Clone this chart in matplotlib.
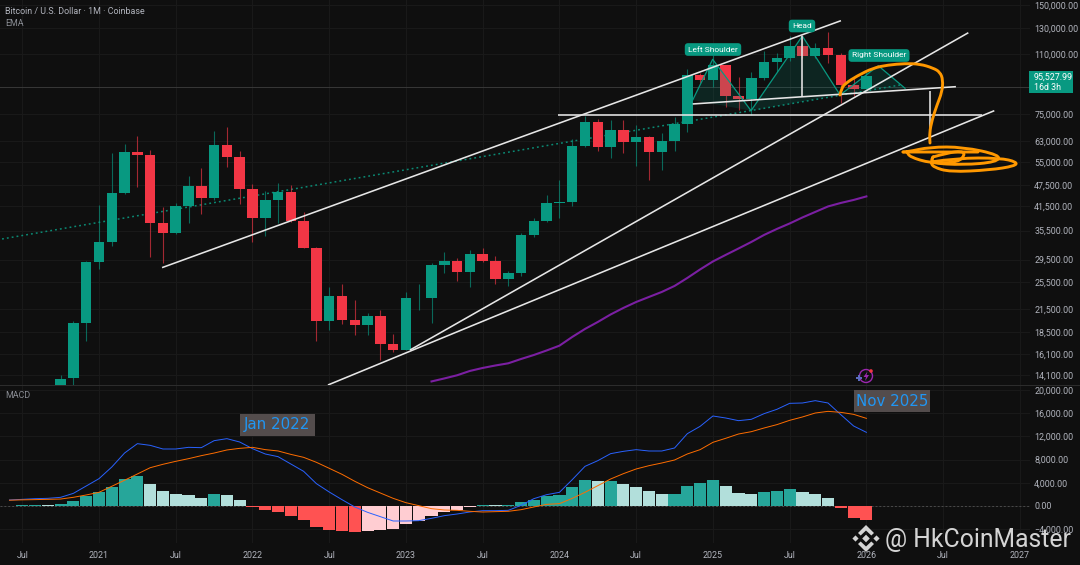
import matplotlib
matplotlib.use('Agg')
import matplotlib.pyplot as plt
from matplotlib.path import Path
from matplotlib.patches import PathPatch, Polygon, Circle, Rectangle

plt.rcParams['font.family'] = ['Roboto', 'DejaVu Sans']

W, H = 1080, 565
BG = '#0f0f0f'
GRID = '#191919'
TXT = '#b2b5be'
UP = '#089981'
DOWN = '#f23645'

# months are counted from Jan 2021 = 0
candle_months = list(range(-3, 61))
opens = [10800, 13800, 19700, 29000, 33100, 45200, 58800, 57700, 37300, 35000, 41500, 47100, 43800, 61300,
         57000, 46200, 38500, 43200, 45500, 37700, 31800, 19900, 23300, 20000, 19400, 20500, 17200, 16550,
         23100, 23100, 28500, 29200, 27200, 30500, 29200, 26000, 27000, 34600, 37700, 42300, 42600, 61200,
         71300, 60600, 67500, 62700, 64600, 58900, 63000, 70300, 96400, 93400, 102400, 84300, 82500, 94200,
         104600, 107100, 115700, 108300, 114000, 109600, 90400, 87700]
closes = [13740, 19700, 29000, 33100, 45200, 58800, 57700, 37300, 35000, 41500, 47100, 43800, 61300, 57000,
          46200, 38500, 43200, 45500, 37700, 31800, 19900, 23300, 20000, 19400, 20500, 17200, 16550, 23100,
          23100, 28500, 29200, 27200, 30500, 29200, 26000, 27000, 34600, 37700, 42300, 42600, 61200, 71000,
          60600, 67500, 62700, 64600, 58900, 63000, 70300, 96400, 93400, 102400, 84300, 82500, 94200, 104600,
          107100, 115700, 108300, 114000, 109600, 90400, 87700, 95528]
highs = [14100, 19900, 29300, 41850, 58350, 61700, 64900, 59500, 41300, 42400, 50500, 52900, 67000, 69000,
         59000, 47900, 45800, 48200, 47400, 40000, 31900, 24700, 25200, 22800, 20900, 21400, 18300, 23900,
         25200, 28900, 31000, 29800, 31400, 31800, 30100, 27400, 35000, 38400, 44700, 49000, 64000, 73800,
         72700, 72000, 72000, 70000, 65000, 66500, 73600, 99800, 97500, 109000, 102500, 95000, 97700, 111900,
         110500, 123100, 124900, 117900, 126200, 110600, 94200, 97800]
lows = [10500, 13000, 17520, 27700, 32250, 45000, 47000, 30000, 28800, 34800, 37300, 39600, 43300, 53200,
        42000, 33000, 34400, 37200, 37500, 31700, 17500, 18800, 19500, 18200, 18200, 15500, 16300, 16500,
        21400, 19600, 27000, 25800, 24800, 29000, 25300, 24900, 26600, 34000, 37600, 38500, 41700, 60800,
        59100, 56500, 58400, 53700, 49000, 52500, 59000, 66800, 91300, 89000, 78200, 76600, 74400, 93300,
        98000, 105200, 107300, 107300, 103500, 80600, 83800, 87200]

ema_months = list(range(26, 61))
ema_values = [13525, 13786, 14070, 14465, 14744, 14980, 15190, 15615, 16020, 16490, 17005, 17980, 18925, 19790,
              20760, 21650, 22490, 23225, 23980, 24920, 26230, 27700, 29150, 30400, 31670, 33020, 34540, 35890,
              37170, 38630, 40020, 41450, 42390, 43210, 44200]

# drawn trend lines as (months, prices)
channel_top = ([4.93, 58.01], [28020, 136100])
support_flat = ([35.89, 69.0], [74600, 74600])
neckline = ([46.42, 67.0], [79870, 89210])
rising_inner = ([24.32, 67.97], [16540, 126000])
rising_outer = ([17.9, 70.0], [13220, 76500])
head_drop = ([55, 55], [123400, 83530])
target_drop = ([64.97, 64.97], [86960, 62100])
dotted_trend = ([-7.58, 62.63], [33660, 90170])

pattern_months = [46.42, 47.98, 50.98, 54.99, 57.94, 60.93, 63.02]
pattern_prices = [81930, 106300, 76500, 123400, 84590, 102000, 88310]

macd_months = list(range(-7, 61))
macd_hist = [30, 100, 230, 170, 400, 860, 1670, 2350, 3330, 4700, 5230, 3850, 2640, 2130, 1950, 1380, 2130, 1950,
             1090, -230, -750, -980, -1670, -2410, -3680, -4080, -4370, -4430, -4250, -4080, -3910, -3160, -2590,
             -1670, -980, -630, -115, 230, 170, 170, 750, 1090, 1670, 1950, 3220, 4480, 4310, 4370, 3850, 3330,
             2530, 2070, 2070, 3500, 4020, 4540, 3500, 2300, 2130, 2470, 2640, 2930, 2410, 2130, 1440, -400,
             -2010, -2410]
macd_line = [1034, 1149, 1264, 1322, 1494, 2184, 3448, 4713, 6724, 9138, 10747, 10460, 9828, 9828, 10115, 10057,
             11264, 11609, 11034, 9885, 8966, 8506, 7241, 5977, 3851, 2414, 1092, -172, -1092, -1839, -2586,
             -2586, -2529, -2126, -1667, -1379, -1034, -805, -805, -747, 115, 1264, 1954, 2356, 4540, 6839, 7816,
             9023, 9425, 9713, 9483, 9483, 10000, 12471, 13736, 15517, 15172, 14713, 14943, 15920, 16667, 17701,
             17759, 18161, 17759, 15747, 13793, 12701]
signal_line = [1000, 1060, 1100, 1150, 1200, 1500, 1900, 2360, 3400, 4440, 5520, 6600, 7190, 7700, 8160, 8680,
               9130, 9660, 9940, 10115, 9720, 9490, 8900, 8390, 7530, 6500, 5460, 4260, 3160, 2240, 1320, 570,
               60, -460, -690, -750, -920, -1035, -975, -917, -635, -170, 284, 406, 1320, 2360, 3506, 4653, 5575,
               6383, 6953, 7413, 7930, 8971, 9716, 10977, 11672, 12413, 12813, 13450, 14027, 14771, 15349, 16031,
               16319, 16147, 15803, 15111]

price_ticks = [150000, 130000, 110000, 75000, 63000, 55000, 47500, 41500, 35500, 29500, 25500, 21500, 18500,
               16100, 14100]
macd_ticks = [20000, 16000, 12000, 8000, 4000, 0, -4000]
x_ticks = [-6, 0, 6, 12, 18, 24, 30, 36, 42, 48, 54, 60, 66, 72]
x_labels = ['Jul', '2021', 'Jul', '2022', 'Jul', '2023', 'Jul', '2024', 'Jul', '2025', 'Jul', '2026', 'Jul', '2027']

PANEL_R = 1030
FS = 6.4
xlim = (-99 / 12.79, (PANEL_R - 99) / 12.79)


def add_px_axes(fig, top, bottom):
    return fig.add_axes([0, (H - bottom) / H, PANEL_R / W, (bottom - top) / H])


def smooth(points, color='#ff9800', lw=2.1):
    # quadratic curve through the midpoints, looks like a pen stroke
    verts = [points[0]]
    codes = [Path.MOVETO]
    for a, b in zip(points[1:-1], points[2:]):
        verts += [a, ((a[0] + b[0]) / 2, (a[1] + b[1]) / 2)]
        codes += [Path.CURVE3, Path.CURVE3]
    verts.append(points[-1])
    codes.append(Path.LINETO)
    return PathPatch(Path(verts, codes), fc='none', ec=color, lw=lw, capstyle='round', joinstyle='round')


fig = plt.figure(figsize=(W / 100, H / 100), dpi=100, facecolor=BG)
ax = add_px_axes(fig, 0, 385)
ax_macd = add_px_axes(fig, 386, 543)

# price panel
for a in (ax, ax_macd):
    a.set_facecolor(BG)
    for s in a.spines.values():
        s.set_visible(False)
    a.set_xlim(xlim)
    a.set_xticks(x_ticks)
    a.grid(True, color=GRID, lw=0.8)
    a.set_axisbelow(True)
    a.yaxis.tick_right()
    a.tick_params(length=0, labelsize=FS, labelcolor=TXT, pad=3)

ax.set_yscale('log')
ax.set_ylim(13220, 155360)
ax.minorticks_off()
ax.set_yticks(price_ticks)
ax.set_yticklabels([f'{v:,.2f}' for v in price_ticks])
ax.tick_params(axis='x', labelbottom=False)
ax.minorticks_off()
ax.axhline(89200, color='#383838', lw=0.7, zorder=1)
ax.plot(*dotted_trend, color='#0b8a74', lw=1.1, ls=(0, (1.2, 2)), zorder=1.5)

for m, o, c, h, l in zip(candle_months, opens, closes, highs, lows):
    col = UP if c >= o else DOWN
    ax.vlines(m, l, h, color=col, lw=0.8, alpha=0.65, zorder=2)
    ax.bar(m, abs(c - o), bottom=min(o, c), width=0.82, color=col, lw=0, zorder=2.5)

ax.plot(ema_months, ema_values, color='#7b1fa2', lw=1.5, zorder=3)

# head and shoulders
for i, j, k in [(0, 1, 2), (2, 3, 4), (4, 5, 6)]:
    tri = [(pattern_months[n], pattern_prices[n]) for n in (i, j, k)]
    ax.add_patch(Polygon(tri, fc=UP, ec='none', alpha=0.16, zorder=3))
ax.plot(pattern_months, pattern_prices, color=UP, lw=0.9, zorder=3.2)

for line in [channel_top, support_flat, neckline, rising_inner, rising_outer, head_drop, target_drop]:
    ax.plot(*line, color='#e6e6e6', lw=1.15, zorder=3.5, solid_capstyle='butt')

# macd panel
ax_macd.set_ylim(-6380, 20690)
ax_macd.set_yticks(macd_ticks)
ax_macd.set_yticklabels([f'{v:,.2f}'.replace('-', '\u2212') for v in macd_ticks])
ax_macd.set_xticklabels(x_labels)
ax_macd.tick_params(axis='x', pad=6)
ax_macd.axhline(0, color='#4a4a4a', lw=0.7, ls=(0, (2, 2)), zorder=1)

bar_colors = []
for n, v in enumerate(macd_hist):
    prev = macd_hist[n - 1] if n else 0
    if v >= 0:
        bar_colors.append('#26a69a' if v >= prev else '#b2dfdb')
    else:
        bar_colors.append('#ffcdd2' if v >= prev else '#ff5252')
ax_macd.bar(macd_months, macd_hist, width=0.95, color=bar_colors, lw=0, zorder=2)
ax_macd.plot(macd_months, macd_line, color='#2962ff', lw=0.7, zorder=3)
ax_macd.plot(macd_months, signal_line, color='#ff6d00', lw=0.7, zorder=3)

# pixel overlay for the things drawn on top of the screenshot
top = fig.add_axes([0, 0, 1, 1], facecolor='none')
top.set_xlim(0, W)
top.set_ylim(H, 0)
top.axis('off')

top.add_patch(Rectangle((0, 385), W, 1, fc='#2c2c2c', ec='none', zorder=1))

top.text(5, 11, 'Bitcoin / U.S. Dollar \u00b7 1M \u00b7 Coinbase', color=TXT, fontsize=FS, va='center')
top.text(5, 23, 'EMA', color='#8a8d94', fontsize=FS, va='center')
top.text(5, 396, 'MACD', color='#8a8d94', fontsize=FS, va='center')

for label, cx, cy in [('Left Shoulder', 713, 49.5), ('Head', 802, 26), ('Right Shoulder', 879, 55.5)]:
    top.text(cx, cy, label, color='white', fontsize=6, ha='center', va='center', zorder=6,
             bbox=dict(boxstyle='round,pad=0.4', fc=UP, ec='none'))

top.add_patch(Rectangle((1029, 71), 44, 22, fc=UP, ec='none', zorder=5))
top.text(1034, 77, '95,527.99', color='white', fontsize=FS, va='center', zorder=6)
top.text(1034, 87, '16d 3h', color='white', fontsize=FS, va='center', zorder=6)

# hand drawn orange scribble
stroke = [(840, 95), (841.5, 88), (846, 83), (857, 76), (873, 68), (888, 65), (905, 63.5), (920, 64), (933, 68),
          (940, 72), (943, 80), (942, 92), (937, 105), (932, 120), (929.5, 133), (930, 143)]
loop_a = [(903, 152), (907, 152), (930, 147), (963, 147), (1000, 155), (997, 162), (963, 165), (930, 163),
          (910, 157), (907, 152)]
loop_b = [(933, 157), (947, 153), (962, 151), (965, 155), (958, 162), (940, 163), (931, 161), (933, 157)]
loop_c = [(931, 162), (957, 158), (1000, 158), (1017, 162), (1015, 166), (990, 170), (950, 172), (933, 167),
          (931, 162)]
pen_dash = [(903, 152), (940, 152), (978, 152)]
for pts in (stroke, loop_a, loop_b, loop_c, pen_dash):
    top.add_patch(smooth(pts))

# boxed dates on the macd panel
for label, x0, x1, y0, y1 in [('Jan 2022', 239.5, 315, 414, 436), ('Nov 2025', 853.5, 930, 390, 412)]:
    top.add_patch(Rectangle((x0, y0), x1 - x0, y1 - y0, fc='#534c4c', ec='none', zorder=5))
    top.text((x0 + x1) / 2, (y0 + y1) / 2, label, color='#2196f3', fontsize=10.8, family='DejaVu Sans',
             ha='center', va='center', zorder=6)

# small alert icon
top.add_patch(Circle((866, 376), 6.5, fc='none', ec='#9c27b0', lw=1, zorder=6))
top.add_patch(Polygon([(867.5, 371.5), (863.5, 377), (866, 377), (865, 381), (869, 375), (866.5, 375)],
                      fc='#9c27b0', ec='none', zorder=6))
top.add_patch(Circle((871, 371), 1.8, fc='#f23645', ec='none', zorder=7))
top.plot([859], [378], marker='P', ms=4, color='#5c6bc0', mew=0, zorder=7)

# watermark
LOGO = '#d4d4d4'
lx, ly = 866, 538.5
for dx, dy, r in [(0, 0, 3.8), (-10.5, 0, 3.1), (10.5, 0, 3.1)]:
    top.add_patch(Polygon([(lx + dx, ly + dy - r), (lx + dx + r, ly + dy), (lx + dx, ly + dy + r), (lx + dx - r, ly + dy)],
                          fc=LOGO, ec='none', zorder=7))
for sign in (-1, 1):
    top.add_patch(Polygon([(lx, ly + sign * 13.5), (lx + 8, ly + sign * 5.5), (lx + 5.3, ly + sign * 3),
                           (lx, ly + sign * 8), (lx - 5.3, ly + sign * 3), (lx - 8, ly + sign * 5.5)],
                          fc=LOGO, ec='none', zorder=7))
top.text(885, 539.5, '@ HkCoinMaster', color=LOGO, fontsize=17.8, va='center', zorder=7)

fig.savefig('out.png', dpi=100, facecolor=BG)
